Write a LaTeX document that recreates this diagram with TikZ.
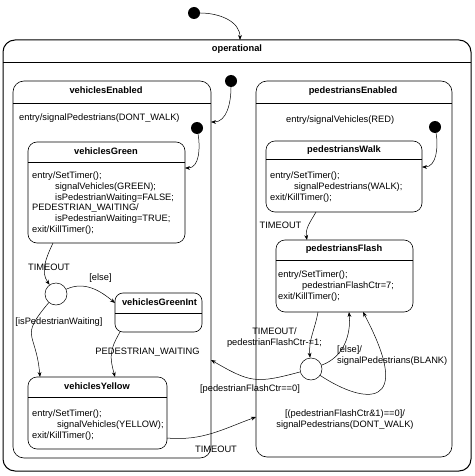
\documentclass[tikz,border=0pt]{standalone}
\usepackage{fontspec}
\setmainfont{Liberation Sans}
\usetikzlibrary{positioning, calc, arrows.meta}
\tikzstyle{Trans} = [
%Transition arrow with small filled tip:
line width=0.5pt,
-{Stealth[length=5pt, width=3.8pt]}
]

\begin{document}
\begin{tikzpicture}[
		x=1pt, y=1pt,
		font=\fontsize{9.3}{10.8}\selectfont,
		region/.style = {rectangle, draw, rounded corners=11pt, inner sep=0, outer sep=0, line width=0.6pt},
		state/.style = {rectangle, draw, rounded corners=9pt, inner sep=0, outer sep=0, line width=0.6pt},
		title/.style = {anchor=base, inner sep=0, font=\fontsize{9.3}{10.8}\selectfont\bfseries},
		actions/.style = {anchor=north west, inner sep=0, align=left},
		guard/.style = {anchor=base, inner sep=0},
		initial/.style = {circle, fill, inner sep=0, minimum size=12pt},
		choice/.style = {circle, draw, line width=0.5pt, inner sep=0, minimum size=22pt},
	]
	\useasboundingbox (0,0) rectangle (474,-476);

	% regions
	\node[region, line width=1pt, rounded corners=12pt, minimum width=468, minimum height=431] (oper) at (237,-255.5) {};
	\draw[line width=0.6pt] (oper.west |- 0,-62) -- (oper.east |- 0,-62);
	\node[title] (operName) at (237,-52) {operational};

	\node[region, minimum width=198, minimum height=377] (vEn) at (112,-269.5) {};
	\draw[line width=0.6pt] (vEn.west |- 0,-103) -- (vEn.east |- 0,-103);
	\node[title] (vEnName) at (106,-93.5) {vehiclesEnabled};
	\node[guard, anchor=base west] (vEnEntry) at (19,-121) {entry/signalPedestrians(DONT\_WALK)};

	\node[region, minimum width=196, minimum height=376] (pEn) at (354,-269) {};
	\draw[line width=0.6pt] (pEn.west |- 0,-103) -- (pEn.east |- 0,-103);
	\node[title] (pEnName) at (353,-93.5) {pedestriansEnabled};
	\node[guard, anchor=base west] (pEnEntry) at (286,-122) {entry/signalVehicles(RED)};

	% vehicle states
	\node[state, minimum width=157, minimum height=101] (vGreen) at (106.5,-192.5) {};
	\draw[line width=0.6pt] (vGreen.west |- 0,-162) -- (vGreen.east |- 0,-162);
	\node[title] (vGreenName) at (106,-154.5) {vehiclesGreen};
	\node[actions] (vGreenActs) at (32,-171.6) {entry/SetTimer();\\
		\hspace*{23pt}signalVehicles(GREEN);\\
		\hspace*{23pt}isPedestrianWaiting=FALSE;\\
		PEDESTRIAN\_WAITING/\\
		\hspace*{23pt}isPedestrianWaiting=TRUE;\\
		exit/KillTimer();};

	\node[state, rounded corners=8pt, minimum width=87, minimum height=39] (vgInt) at (158.5,-312.5) {};
	\draw[line width=0.6pt] (vgInt.west |- 0,-313) -- (vgInt.east |- 0,-313);
	\node[title] (vgIntName) at (159.5,-305.5) {vehiclesGreenInt};

	\node[state, minimum width=139, minimum height=72] (vYellow) at (97.5,-413) {};
	\draw[line width=0.6pt] (vYellow.west |- 0,-397) -- (vYellow.east |- 0,-397);
	\node[title] (vYellowName) at (97,-389.5) {vehiclesYellow};
	\node[actions] (vYellowActs) at (32,-409.6) {entry/SetTimer();\\
		\hspace*{25pt}signalVehicles(YELLOW);\\
		exit/KillTimer();};

	% pedestrian states
	\node[state, minimum width=156, minimum height=71] (pWalk) at (344,-176.5) {};
	\draw[line width=0.6pt] (pWalk.west |- 0,-159) -- (pWalk.east |- 0,-159);
	\node[title] (pWalkName) at (344,-152.5) {pedestriansWalk};
	\node[actions] (pWalkActs) at (270,-171.6) {entry/SetTimer();\\
		\hspace*{24pt}signalPedestrians(WALK);\\
		exit/KillTimer();};

	\node[state, minimum width=137, minimum height=72] (pFlash) at (344.5,-276) {};
	\draw[line width=0.6pt] (pFlash.west |- 0,-260) -- (pFlash.east |- 0,-260);
	\node[title] (pFlashName) at (344,-251.5) {pedestriansFlash};
	\node[actions] (pFlashActs) at (278,-270.6) {entry/SetTimer();\\
		\hspace*{24pt}pedestrianFlashCtr=7;\\
		exit/KillTimer();};

	% pseudo states
	\node[initial] (opInit) at (194,-13) {};
	\node[initial] (veInit) at (231,-81) {};
	\node[initial] (vgInit) at (197,-128) {};
	\node[initial] (pwInit) at (435,-127) {};
	\node[choice] (vChoice) at (56,-294) {};
	\node[choice] (pChoice) at (311,-369) {};

	% transitions
	\draw[Trans] (opInit) to[out=0, in=90] ([xshift=3pt]oper.north);
	\draw[Trans] (veInit) to[out=-90, in=0] (vEn.east |- 0,-122);
	\draw[Trans] (vgInit) to[out=-80, in=0] (vGreen.east |- 0,-168);
	\draw[Trans] (pwInit) to[out=-80, in=0] (pWalk.east |- 0,-167);

	\draw[Trans] (vGreen.south -| 53,0) to[out=-115, in=125] (vChoice);
	\draw[Trans] (vChoice) to[out=25, in=140] (vgInt.west |- 0,-303);
	\draw[Trans] (vChoice) to[out=-130, in=95, looseness=1.6] (vYellow.north -| 40,0);
	\draw[Trans] (vgInt.south -| 120,0) to[out=-120, in=105, looseness=1.2] (vYellow.north -| 115,0);
	\draw[Trans] (vYellow.east |- 0,-438) to[out=-5, in=200] (pEn.west |- 0,-417);

	\draw[Trans] (pWalk.south -| 316,0) to[out=-120, in=100] (pFlash.north -| 307,0);
	\draw[Trans] (pFlash.south -| 318,0) to[out=-100, in=95] (pChoice);
	\draw[Trans] (pChoice) to[out=20, in=-85] (pFlash.south -| 349,0);
	\draw[Trans] (pChoice.-35) .. controls (365,-405) and (415,-410) .. (pFlash.south -| 363,0);
	\draw[Trans] (pChoice) to[out=195, in=-30, looseness=1.3] (vEn.east |- 0,-360);

	% guards and events
	\node[guard] (vGreenTO) at (49,-270.4) {TIMEOUT};
	\node[guard] (vElse) at (100.5,-280) {[else]};
	\node[guard] (vWaiting) at (59,-324) {[isPedestrianWaiting]};
	\node[guard] (vIntWaiting) at (147.5,-354) {PEDESTRIAN\_WAITING};
	\node[guard] (vYellowTO) at (216,-452.7) {TIMEOUT};
	\node[guard] (pWalkTO) at (280.5,-228.4) {TIMEOUT};
	\node[guard, anchor=north, align=center] (pFlashTO) at (274.5,-327.6) {TIMEOUT/\\pedestrianFlashCtr-=1;};
	\node[guard, anchor=north west, align=left] (pElse) at (337,-345.6) {[else]/\\signalPedestrians(BLANK)};
	\node[guard, anchor=north, align=center] (pEven) at (345,-409.6) {[(pedestrianFlashCtr\&1)==0]/\\signalPedestrians(DONT\_WALK)};
	\node[guard] (pDone) at (250,-391.4) {[pedestrianFlashCtr==0]};
\end{tikzpicture}
\end{document}
